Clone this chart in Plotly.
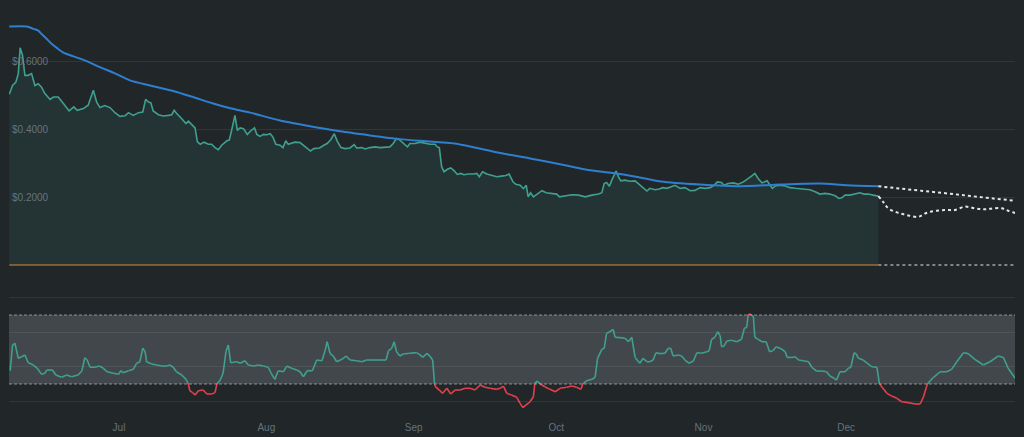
import pandas as pd
import plotly.graph_objects as go

# ---------------- data (day offsets relative to 2022-07-01) ----------------
BASE = "2022-07-01"

price_day = [-23.1, -22.4, -21.7, -21.2, -20.8, -20.3, -19.8, -19.1, -18.4, -17.7, -17.0, -16.3, -15.6, -14.5,
             -13.8, -12.8, -11.7, -10.5, -9.5, -8.8, -7.5, -6.5, -5.4, -4.7, -4.0, -3.0, -1.9, -0.8, 0.2, 1.3,
             2.0, 3.0, 4.1, 5.0, 5.6, 6.2, 6.7, 7.2, 8.3, 9.3, 10.4, 11.1, 11.6, 12.1, 13.2, 14.1, 14.6, 15.3,
             16.0, 16.5, 17.1, 17.9, 18.8, 19.5, 20.2, 20.9,
             21.6, 22.7, 23.2, 23.7, 24.4, 24.9, 25.5, 26.2, 27.0, 27.7, 28.5, 29.0, 29.7, 30.4, 31.1, 31.8,
             32.4, 33.0, 33.9, 34.5, 35.1, 35.6, 36.3, 37.0, 38.1, 39.1, 40.3, 41.0, 42.2, 43.1, 43.8, 44.6,
             45.3, 45.9, 46.7, 47.6, 48.6, 49.5, 50.0, 51.1, 51.8, 52.8, 53.9, 54.9, 56.0, 57.0, 57.7, 58.4,
             59.1, 59.8, 60.7, 61.2, 62.3, 63.3, 64.4, 65.5, 66.5, 67.0, 67.4,
             67.9, 68.4, 69.1, 69.8, 70.5, 71.2, 71.9, 72.6, 73.5, 74.6, 75.3, 75.8, 76.5, 77.4, 78.4, 79.5,
             80.5, 81.4, 82.1, 82.9, 83.5, 84.4, 85.1, 85.7, 86.1, 86.6, 87.2, 87.9, 89.0, 89.9, 91.1, 92.1,
             92.7, 93.9, 95.3, 96.7, 98.1, 99.5, 100.9, 101.6, 102.1, 102.6, 103.2, 103.7, 104.6, 105.1, 105.6,
             106.5, 107.5, 108.6, 109.3, 110.2, 111.1, 111.7, 112.8, 113.7, 114.4, 115.3, 116.0,
             117.0, 118.1, 119.1, 120.2, 121.2, 122.3, 123.3, 124.4, 125.2, 125.9, 126.8, 127.3, 128.2, 129.3,
             130.3, 131.4, 132.2, 133.1, 133.8, 134.5, 135.3, 135.9, 136.4, 137.0, 137.5, 138.1, 139.1, 140.2,
             141.2, 142.3, 143.3, 144.4, 145.4, 146.5, 147.5, 148.6, 149.6, 150.7, 151.5, 152.1, 152.8, 153.8,
             154.9, 155.9, 156.8, 157.7, 158.7, 159.8]
price_val = [0.503, 0.529, 0.539, 0.564, 0.640, 0.618, 0.559, 0.559, 0.564, 0.529, 0.534, 0.524, 0.505, 0.488,
             0.495, 0.495, 0.476, 0.454, 0.466, 0.456, 0.461, 0.471, 0.515, 0.480, 0.464, 0.470, 0.464, 0.448, 0.438, 0.440,
             0.449, 0.441, 0.449, 0.451, 0.488, 0.480, 0.478, 0.454, 0.443, 0.439, 0.441, 0.443, 0.456, 0.447, 0.431, 0.417, 0.424, 0.415,
             0.404, 0.363, 0.356, 0.362, 0.356, 0.356, 0.346, 0.340,
             0.353, 0.366, 0.368, 0.397, 0.441, 0.397, 0.404, 0.402, 0.385, 0.395, 0.404, 0.385, 0.379, 0.385, 0.384, 0.387,
             0.377, 0.356, 0.353, 0.346, 0.366, 0.356, 0.360, 0.362, 0.361, 0.350, 0.336, 0.343, 0.345, 0.353, 0.358, 0.370,
             0.387, 0.366, 0.346, 0.343, 0.345, 0.355, 0.345, 0.346, 0.342, 0.346, 0.348, 0.346, 0.348, 0.348, 0.358, 0.373,
             0.368, 0.360, 0.348, 0.358, 0.358, 0.362, 0.358, 0.356, 0.356, 0.348, 0.346,
             0.289, 0.275, 0.282, 0.286, 0.278, 0.267, 0.270, 0.266, 0.268, 0.268, 0.270, 0.260, 0.275, 0.268, 0.264, 0.260,
             0.262, 0.264, 0.268, 0.245, 0.238, 0.235, 0.225, 0.235, 0.201, 0.213, 0.201, 0.209, 0.219, 0.213, 0.211, 0.209,
             0.201, 0.204, 0.207, 0.206, 0.201, 0.206, 0.209, 0.213, 0.240, 0.243, 0.232, 0.250, 0.277, 0.260, 0.248,
             0.250, 0.247, 0.248, 0.240, 0.228, 0.218, 0.226, 0.222, 0.224, 0.228, 0.226, 0.230,
             0.235, 0.226, 0.228, 0.219, 0.220, 0.228, 0.226, 0.228, 0.235, 0.245, 0.243, 0.235, 0.240, 0.242,
             0.238, 0.245, 0.252, 0.262, 0.270, 0.255, 0.242, 0.245, 0.248, 0.235, 0.226, 0.233, 0.235, 0.233,
             0.228, 0.226, 0.224, 0.222, 0.222, 0.216, 0.209, 0.211, 0.209, 0.204, 0.196, 0.198, 0.206, 0.206,
             0.209, 0.213, 0.209, 0.209, 0.206, 0.203]

trend_day = [-23.1, -19.4, -18.0, -17.0, -16.3, -15.2, -14.2, -13.1, -11.7, -9.6, -6.8, -4.0, -1.2, 2.3, 6.5,
             11.4, 15.6, 19.8, 23.4, 27.6, 33.9, 40.2, 46.5, 52.8, 59.1, 63.3, 67.5, 70.7, 80.2, 86.5, 92.8,
             99.1, 105.4, 111.7, 114.0, 122.3, 130.7, 139.1, 147.5, 153.1, 159.8]
trend_val = [0.703, 0.703, 0.696, 0.691, 0.681, 0.666, 0.652, 0.640, 0.626, 0.615, 0.601, 0.583, 0.567, 0.544, 0.529,
             0.513, 0.495, 0.476, 0.462, 0.449, 0.426, 0.409, 0.394, 0.382, 0.371, 0.366, 0.362, 0.358, 0.330, 0.314, 0.297,
             0.279, 0.268, 0.252, 0.246, 0.237, 0.232, 0.237, 0.240, 0.235, 0.232]

fc_trend_day = [159.8, 168.6, 175.6, 182.6, 188.9]
fc_trend_val = [0.232, 0.218, 0.209, 0.198, 0.189]

fc_price_day = [159.8, 160.8, 161.9, 163.7, 165.8, 168.2, 170.0, 172.1, 174.2, 175.9, 178.0, 180.1, 182.2,
                184.0, 185.8, 187.1, 188.9]
fc_price_val = [0.203, 0.186, 0.167, 0.155, 0.147, 0.142, 0.154, 0.160, 0.162, 0.162, 0.172, 0.167, 0.164,
                0.167, 0.167, 0.160, 0.152]

zero_day = [-23.1, 159.8]
zero_fc_day = [159.8, 188.9]

rsi_day = [-22.9, -22.4, -21.9, -21.2, -20.5, -19.8, -19.1, -18.0, -17.2, -16.3, -15.6, -15.2, -14.0, -13.3, -12.1,
           -11.0, -10.0, -8.6, -7.8, -7.2, -6.7, -6.1, -5.1, -4.1, -3.3, -2.5, -1.2, -0.1, 0.4, 0.9, 2.0, 3.0, 3.7,
           4.4, 5.0, 5.5, 5.8, 6.9, 7.9, 9.0, 10.0, 10.7, 11.4, 12.1, 13.2, 14.1, 14.6, 14.9, 15.5, 16.0, 16.7,
           17.7, 18.5, 19.5, 20.2, 20.6, 21.3, 21.9, 22.5, 23.0, 23.5, 24.8, 25.5, 26.5, 27.2, 28.3, 29.3, 30.4,
           31.4, 32.1, 32.8, 33.5, 34.6, 35.3, 36.3, 37.4,
           38.1, 38.8, 39.6, 40.7, 41.6, 42.7, 43.4, 43.8, 44.4, 45.1, 45.8, 46.9, 47.8, 48.6, 50.0, 51.1, 52.1,
           53.5, 54.9, 56.2, 56.7, 57.4, 57.9, 58.4, 59.1, 59.8, 61.2, 62.6, 63.3, 63.9, 64.8, 65.4, 66.0, 66.4,
           66.5, 67.4, 68.1, 69.0, 69.8, 70.7, 71.8, 72.8, 73.9, 74.9, 76.0, 77.0, 78.1, 79.5, 80.2, 80.9, 81.6,
           82.6, 83.7, 84.4, 85.0, 85.6, 86.5, 87.2, 87.5, 88.0, 88.7, 89.6, 90.7, 91.8, 92.8, 94.2, 95.3, 96.3,
           97.2, 97.6, 98.4, 99.5, 100.2, 100.7, 101.6, 102.1, 102.6, 103.3, 104.0, 104.4, 105.4, 106.5, 107.2,
           107.9, 108.6, 109.6, 110.3, 111.1,
           111.7, 112.4, 113.0, 113.8, 114.9, 115.6, 116.1, 116.6, 117.7, 118.4, 119.1, 120.0, 120.9, 121.6,
           122.6, 123.7, 124.2, 124.7, 125.4, 126.0, 126.5, 126.8, 127.3, 127.9, 128.9, 130.0, 131.0, 131.6,
           132.1, 132.4, 133.0, 133.5, 133.8, 134.5, 135.3, 136.2, 136.9, 137.6, 138.3, 139.3, 140.2, 140.6,
           141.6, 142.3, 143.0, 144.0, 145.1, 145.8, 146.8, 147.9, 148.9, 149.6, 150.5, 151.0, 151.7, 152.8,
           153.5, 154.0, 154.7, 155.1, 155.6, 156.6, 157.5, 158.4, 159.5, 160.0, 160.5, 161.6, 162.6, 163.7,
           164.7, 166.1, 167.5, 168.6, 169.3, 170.1, 171.4, 172.8, 174.2, 175.2, 176.3, 177.7, 178.7, 180.1,
           181.9, 183.3, 185.0, 186.1, 187.1, 188.6]
rsi_val = [37.7, 52.6, 53.6, 44.9, 45.8, 46.8, 42.3, 41.0, 39.1, 35.6, 36.2, 38.1, 38.1, 35.2, 33.9,
           35.2, 34.2, 35.2, 37.7, 45.2, 43.9, 39.7, 39.7, 40.4, 39.1, 37.1, 36.2, 35.6, 37.7, 36.5, 37.7, 38.5, 42.0,
           42.9, 50.7, 48.7, 42.9, 41.6, 41.0, 40.4, 40.4, 41.0, 39.7, 37.1, 35.2, 32.7, 30.0, 26.1, 25.0, 23.6, 26.1,
           26.5, 24.2, 24.2, 25.0, 30.0, 32.3, 36.2, 48.7, 52.6, 42.3, 42.9, 42.0, 43.5, 41.0, 40.4, 41.0, 40.4,
           39.7, 35.8, 32.7, 37.7, 37.1, 40.4, 39.1, 38.1,
           37.1, 34.2, 37.7, 37.7, 43.9, 43.5, 49.7, 54.5, 47.8, 46.2, 42.9, 44.3, 46.2, 43.9, 43.5, 42.9, 43.9,
           43.9, 43.9, 43.9, 49.3, 50.7, 54.5, 48.7, 46.2, 47.4, 47.8, 48.2, 47.0, 45.4, 47.8, 46.2, 43.9, 30.4,
           28.8, 26.5, 24.6, 27.5, 24.2, 26.5, 26.5, 27.5, 27.5, 26.5, 29.4, 28.1, 27.5, 26.9, 27.5, 28.8, 24.6,
           23.6, 22.3, 18.8, 16.3, 17.8, 19.7, 22.6, 30.4, 31.7, 30.0, 28.4, 26.9, 25.5, 27.5, 28.1, 28.8, 28.1,
           26.9, 30.0, 31.9, 32.7, 33.9, 44.9, 50.1, 50.7, 59.4, 60.3, 61.7, 57.1, 56.9, 56.5, 54.5,
           57.1, 45.4, 42.0, 44.9, 42.9,
           42.9, 43.9, 48.1, 47.6, 47.8, 50.7, 50.7, 46.2, 46.8, 46.2, 43.9, 42.0, 43.5, 48.1,
           47.8, 48.7, 49.3, 55.9, 57.1, 60.3, 58.0, 51.6, 51.9, 54.9, 55.4, 54.5, 55.9, 62.3,
           62.9, 70.4, 70.4, 69.0, 57.1, 55.9, 54.5, 54.5, 48.7, 49.3, 51.6, 50.5, 48.7, 45.4,
           45.4, 45.8, 43.9, 43.5, 42.9, 39.7, 37.5, 37.5, 37.1, 34.6, 33.3, 32.3, 37.1, 37.1,
           39.1, 39.7, 48.1, 47.6, 44.9, 43.9, 42.0, 40.0, 39.7, 30.4, 28.4, 24.6, 23.0, 21.7,
           19.7, 19.2, 18.4, 18.4, 22.6, 30.0, 33.9, 37.1, 37.1, 38.5, 42.9, 48.1, 47.6, 44.3,
           41.0, 42.9, 46.2, 45.4, 39.1, 33.3]

RSI_LOW, RSI_HIGH = 30, 70
price_ticks = [0.2, 0.4, 0.6]
price_tick_text = ["$0.2000", "$0.4000", "$0.6000"]
rsi_grid = [20, 40, 60, 80]
month_ticks = ["2022-07-01", "2022-08-01", "2022-09-01", "2022-10-01", "2022-11-01", "2022-12-01"]

# ---------------- helpers ----------------
base = pd.Timestamp(BASE)


def to_dates(days):
    return [base + pd.Timedelta(days=float(d)) for d in days]


def split_rsi(days, vals, lo, hi):
    """Split into in-band (teal) and out-of-band (red) segments, inserting crossings."""
    inb_x, inb_y, out_x, out_y = [], [], [], []

    def state(v):
        return 0 if lo <= v <= hi else 1

    for i in range(len(days) - 1):
        d0, v0, d1, v1 = days[i], vals[i], days[i + 1], vals[i + 1]
        pts = [(d0, v0)]
        for thr in (lo, hi):
            if (v0 - thr) * (v1 - thr) < 0:
                t = (thr - v0) / (v1 - v0)
                pts.append((d0 + t * (d1 - d0), thr))
        pts.sort()
        pts.append((d1, v1))
        for j in range(len(pts) - 1):
            (a, av), (b, bv) = pts[j], pts[j + 1]
            mid = (av + bv) / 2
            if state(mid) == 0:
                inb_x += [a, b, None]; inb_y += [av, bv, None]
            else:
                out_x += [a, b, None]; out_y += [av, bv, None]

    def conv(xs):
        return [None if x is None else base + pd.Timedelta(days=float(x)) for x in xs]

    return conv(inb_x), inb_y, conv(out_x), out_y


# ---------------- styling ----------------
BG = "#212629"
TEAL = "#40a08f"
BLUE = "#2f7fd1"
ORANGE = "#e2873a"
RED = "#e4404c"
DOT = "#e6e6e6"
GRID = "rgba(255,255,255,0.075)"
LABEL = "#66737c"
FONT = "Liberation Sans, Arial, sans-serif"

fig = go.Figure()

# price area
fig.add_trace(go.Scatter(x=to_dates(price_day), y=price_val, mode="lines", fill="tozeroy",
                         fillcolor="#243434", line=dict(color=TEAL, width=1.6), xaxis="x", yaxis="y"))
# zero line
fig.add_trace(go.Scatter(x=to_dates(zero_day), y=[0] * len(zero_day), mode="lines",
                         line=dict(color=ORANGE, width=1.2), xaxis="x", yaxis="y"))
# trend line
fig.add_trace(go.Scatter(x=to_dates(trend_day), y=trend_val, mode="lines", line_shape="spline",
                         line=dict(color=BLUE, width=2, smoothing=0.7), xaxis="x", yaxis="y"))
# forecasts
fig.add_trace(go.Scatter(x=to_dates(fc_trend_day), y=fc_trend_val, mode="lines",
                         line=dict(color=DOT, width=2, dash="dot"), xaxis="x", yaxis="y"))
fig.add_trace(go.Scatter(x=to_dates(fc_price_day), y=fc_price_val, mode="lines", line_shape="spline",
                         line=dict(color=DOT, width=2, dash="dot"), xaxis="x", yaxis="y"))
fig.add_trace(go.Scatter(x=to_dates(zero_fc_day), y=[0] * len(zero_fc_day), mode="lines",
                         line=dict(color=DOT, width=1.2, dash="dot"), xaxis="x", yaxis="y"))

# RSI
ix, iy, ox, oy = split_rsi(rsi_day, rsi_val, RSI_LOW, RSI_HIGH)
fig.add_trace(go.Scatter(x=ix, y=iy, mode="lines", line=dict(color=TEAL, width=1.6),
                         connectgaps=False, xaxis="x2", yaxis="y2"))
fig.add_trace(go.Scatter(x=ox, y=oy, mode="lines", line=dict(color=RED, width=1.6),
                         connectgaps=False, xaxis="x2", yaxis="y2"))

# RSI band
fig.add_shape(type="rect", xref="x2 domain", yref="y2", x0=0, x1=1, y0=RSI_LOW, y1=RSI_HIGH,
              fillcolor="#41474a", line=dict(width=0), layer="below")
for lvl in (RSI_LOW, RSI_HIGH):
    fig.add_shape(type="line", xref="x2 domain", yref="y2", x0=0, x1=1, y0=lvl, y1=lvl,
                  line=dict(color="rgba(220,220,220,0.55)", width=1, dash="3px,2px"), layer="above")

H = 437.0
# price axis: 0 at 265px, 339.3 px per unit
y_top_px, y_bot_px = 0, 270
ppu = 339.3
y_range = [-(y_bot_px - 265) / ppu, (265 - y_top_px) / ppu]
# rsi axis: 30 at 384px, 1.725 px per unit
r_top_px, r_bot_px = 290, 420
r_range = [30 - (r_bot_px - 384) / 1.725, 30 + (384 - r_top_px) / 1.725]

x_start = base - pd.Timedelta(days=23.15)
x_end = base + pd.Timedelta(days=188.55)

fig.update_layout(
    width=1024, height=437,
    margin=dict(l=9, r=9, t=0, b=0),
    paper_bgcolor=BG, plot_bgcolor="rgba(0,0,0,0)",
    showlegend=False,
    font=dict(family=FONT, color=LABEL, size=10),
    xaxis=dict(domain=[0, 1], anchor="y", range=[x_start, x_end], type="date",
               showticklabels=False, showgrid=False, zeroline=False, showline=False),
    xaxis2=dict(domain=[0, 1], anchor="y2", range=[x_start, x_end], type="date", matches="x",
                tickvals=month_ticks, tickformat="%b", showgrid=False, zeroline=False, showline=False,
                ticks="", tickfont=dict(size=10, color=LABEL, family=FONT)),
    yaxis=dict(domain=[1 - y_bot_px / H, 1 - y_top_px / H], range=y_range,
               tickvals=price_ticks, ticktext=price_tick_text, ticklabelposition="inside",
               tickfont=dict(size=10, color=LABEL, family=FONT),
               showgrid=True, gridcolor=GRID, gridwidth=1, zeroline=False, showline=False, ticks=""),
    yaxis2=dict(domain=[1 - r_bot_px / H, 1 - r_top_px / H], range=r_range,
                tickvals=rsi_grid, showticklabels=False,
                showgrid=True, gridcolor=GRID, gridwidth=1, zeroline=False, showline=False, ticks=""),
)

fig.write_html("out.html", config={"displayModeBar": False})
